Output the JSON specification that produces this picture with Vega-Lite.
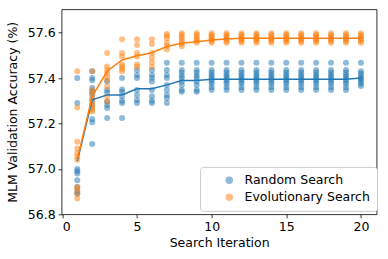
{
  "$schema": "https://vega.github.io/schema/vega-lite/v6.json",
  "width": 315,
  "height": 205,
  "autosize": "none",
  "padding": {"left": 61.6, "top": 9.3, "right": 11.4, "bottom": 44.7},
  "config": {
    "view": {"stroke": "black", "strokeWidth": 0.8},
    "font": "DejaVu Sans",
    "axis": {
      "domain": false,
      "grid": false,
      "tickColor": "black",
      "tickSize": 3.5,
      "tickWidth": 0.8,
      "labelPadding": 3,
      "labelFont": "DejaVu Sans",
      "labelFontSize": 12.5,
      "labelColor": "black",
      "titleFont": "DejaVu Sans",
      "titleFontSize": 12.5,
      "titleFontWeight": "normal",
      "titleColor": "black"
    },
    "legend": {
      "labelFont": "DejaVu Sans",
      "labelFontSize": 12.5,
      "labelColor": "black"
    }
  },
  "datasets": {
    "pts": [
      {"x":1,"y":57.40,"s":"Random Search"},{"x":1,"y":57.29,"s":"Random Search"},{"x":1,"y":57.00,"s":"Random Search"},{"x":1,"y":56.99,"s":"Random Search"},{"x":1,"y":56.98,"s":"Random Search"},{"x":1,"y":56.95,"s":"Random Search"},{"x":1,"y":56.92,"s":"Random Search"},{"x":1,"y":56.90,"s":"Random Search"},{"x":1,"y":56.89,"s":"Random Search"},
      {"x":2,"y":57.43,"s":"Random Search"},{"x":2,"y":57.40,"s":"Random Search"},{"x":2,"y":57.39,"s":"Random Search"},{"x":2,"y":57.356,"s":"Random Search"},{"x":2,"y":57.341,"s":"Random Search"},{"x":2,"y":57.326,"s":"Random Search"},{"x":2,"y":57.304,"s":"Random Search"},{"x":2,"y":57.282,"s":"Random Search"},{"x":2,"y":57.22,"s":"Random Search"},{"x":2,"y":57.205,"s":"Random Search"},{"x":2,"y":57.11,"s":"Random Search"},
      {"x":3,"y":57.385,"s":"Random Search"},{"x":3,"y":57.348,"s":"Random Search"},{"x":3,"y":57.336,"s":"Random Search"},{"x":3,"y":57.297,"s":"Random Search"},{"x":3,"y":57.282,"s":"Random Search"},{"x":3,"y":57.268,"s":"Random Search"},{"x":3,"y":57.224,"s":"Random Search"},
      {"x":4,"y":57.40,"s":"Random Search"},{"x":4,"y":57.35,"s":"Random Search"},{"x":4,"y":57.34,"s":"Random Search"},{"x":4,"y":57.32,"s":"Random Search"},{"x":4,"y":57.30,"s":"Random Search"},{"x":4,"y":57.29,"s":"Random Search"},{"x":4,"y":57.224,"s":"Random Search"},
      {"x":5,"y":57.436,"s":"Random Search"},{"x":5,"y":57.414,"s":"Random Search"},{"x":5,"y":57.40,"s":"Random Search"},{"x":5,"y":57.348,"s":"Random Search"},{"x":5,"y":57.326,"s":"Random Search"},{"x":5,"y":57.304,"s":"Random Search"},{"x":5,"y":57.29,"s":"Random Search"},
      {"x":6,"y":57.436,"s":"Random Search"},{"x":6,"y":57.414,"s":"Random Search"},{"x":6,"y":57.40,"s":"Random Search"},{"x":6,"y":57.385,"s":"Random Search"},{"x":6,"y":57.348,"s":"Random Search"},{"x":6,"y":57.32,"s":"Random Search"},{"x":6,"y":57.30,"s":"Random Search"},{"x":6,"y":57.29,"s":"Random Search"},
      {"x":7,"y":57.468,"s":"Random Search"},{"x":7,"y":57.436,"s":"Random Search"},{"x":7,"y":57.414,"s":"Random Search"},{"x":7,"y":57.40,"s":"Random Search"},{"x":7,"y":57.37,"s":"Random Search"},{"x":7,"y":57.348,"s":"Random Search"},{"x":7,"y":57.326,"s":"Random Search"},{"x":7,"y":57.312,"s":"Random Search"},{"x":7,"y":57.29,"s":"Random Search"},
      {"x":8,"y":57.468,"s":"Random Search"},{"x":8,"y":57.436,"s":"Random Search"},{"x":8,"y":57.425,"s":"Random Search"},{"x":8,"y":57.41,"s":"Random Search"},{"x":8,"y":57.40,"s":"Random Search"},{"x":8,"y":57.385,"s":"Random Search"},{"x":8,"y":57.37,"s":"Random Search"},{"x":8,"y":57.348,"s":"Random Search"},{"x":8,"y":57.34,"s":"Random Search"},
      {"x":9,"y":57.468,"s":"Random Search"},{"x":9,"y":57.436,"s":"Random Search"},{"x":9,"y":57.425,"s":"Random Search"},{"x":9,"y":57.41,"s":"Random Search"},{"x":9,"y":57.40,"s":"Random Search"},{"x":9,"y":57.385,"s":"Random Search"},{"x":9,"y":57.37,"s":"Random Search"},{"x":9,"y":57.348,"s":"Random Search"},{"x":9,"y":57.34,"s":"Random Search"},
      {"x":10,"y":57.468,"s":"Random Search"},{"x":10,"y":57.436,"s":"Random Search"},{"x":10,"y":57.425,"s":"Random Search"},{"x":10,"y":57.414,"s":"Random Search"},{"x":10,"y":57.405,"s":"Random Search"},{"x":10,"y":57.395,"s":"Random Search"},{"x":10,"y":57.385,"s":"Random Search"},{"x":10,"y":57.375,"s":"Random Search"},{"x":10,"y":57.36,"s":"Random Search"},{"x":10,"y":57.348,"s":"Random Search"},
      {"x":11,"y":57.468,"s":"Random Search"},{"x":11,"y":57.436,"s":"Random Search"},{"x":11,"y":57.425,"s":"Random Search"},{"x":11,"y":57.414,"s":"Random Search"},{"x":11,"y":57.405,"s":"Random Search"},{"x":11,"y":57.395,"s":"Random Search"},{"x":11,"y":57.385,"s":"Random Search"},{"x":11,"y":57.375,"s":"Random Search"},{"x":11,"y":57.36,"s":"Random Search"},{"x":11,"y":57.348,"s":"Random Search"},
      {"x":12,"y":57.468,"s":"Random Search"},{"x":12,"y":57.436,"s":"Random Search"},{"x":12,"y":57.425,"s":"Random Search"},{"x":12,"y":57.414,"s":"Random Search"},{"x":12,"y":57.405,"s":"Random Search"},{"x":12,"y":57.395,"s":"Random Search"},{"x":12,"y":57.385,"s":"Random Search"},{"x":12,"y":57.375,"s":"Random Search"},{"x":12,"y":57.36,"s":"Random Search"},{"x":12,"y":57.348,"s":"Random Search"},
      {"x":13,"y":57.468,"s":"Random Search"},{"x":13,"y":57.436,"s":"Random Search"},{"x":13,"y":57.425,"s":"Random Search"},{"x":13,"y":57.414,"s":"Random Search"},{"x":13,"y":57.405,"s":"Random Search"},{"x":13,"y":57.395,"s":"Random Search"},{"x":13,"y":57.385,"s":"Random Search"},{"x":13,"y":57.375,"s":"Random Search"},{"x":13,"y":57.36,"s":"Random Search"},{"x":13,"y":57.348,"s":"Random Search"},
      {"x":14,"y":57.468,"s":"Random Search"},{"x":14,"y":57.436,"s":"Random Search"},{"x":14,"y":57.425,"s":"Random Search"},{"x":14,"y":57.414,"s":"Random Search"},{"x":14,"y":57.405,"s":"Random Search"},{"x":14,"y":57.395,"s":"Random Search"},{"x":14,"y":57.385,"s":"Random Search"},{"x":14,"y":57.375,"s":"Random Search"},{"x":14,"y":57.36,"s":"Random Search"},{"x":14,"y":57.348,"s":"Random Search"},
      {"x":15,"y":57.468,"s":"Random Search"},{"x":15,"y":57.436,"s":"Random Search"},{"x":15,"y":57.425,"s":"Random Search"},{"x":15,"y":57.414,"s":"Random Search"},{"x":15,"y":57.405,"s":"Random Search"},{"x":15,"y":57.395,"s":"Random Search"},{"x":15,"y":57.385,"s":"Random Search"},{"x":15,"y":57.375,"s":"Random Search"},{"x":15,"y":57.36,"s":"Random Search"},{"x":15,"y":57.348,"s":"Random Search"},
      {"x":16,"y":57.468,"s":"Random Search"},{"x":16,"y":57.436,"s":"Random Search"},{"x":16,"y":57.425,"s":"Random Search"},{"x":16,"y":57.414,"s":"Random Search"},{"x":16,"y":57.405,"s":"Random Search"},{"x":16,"y":57.395,"s":"Random Search"},{"x":16,"y":57.385,"s":"Random Search"},{"x":16,"y":57.375,"s":"Random Search"},{"x":16,"y":57.36,"s":"Random Search"},{"x":16,"y":57.348,"s":"Random Search"},
      {"x":17,"y":57.468,"s":"Random Search"},{"x":17,"y":57.436,"s":"Random Search"},{"x":17,"y":57.425,"s":"Random Search"},{"x":17,"y":57.414,"s":"Random Search"},{"x":17,"y":57.405,"s":"Random Search"},{"x":17,"y":57.395,"s":"Random Search"},{"x":17,"y":57.385,"s":"Random Search"},{"x":17,"y":57.375,"s":"Random Search"},{"x":17,"y":57.36,"s":"Random Search"},{"x":17,"y":57.348,"s":"Random Search"},
      {"x":18,"y":57.468,"s":"Random Search"},{"x":18,"y":57.436,"s":"Random Search"},{"x":18,"y":57.425,"s":"Random Search"},{"x":18,"y":57.414,"s":"Random Search"},{"x":18,"y":57.405,"s":"Random Search"},{"x":18,"y":57.395,"s":"Random Search"},{"x":18,"y":57.385,"s":"Random Search"},{"x":18,"y":57.375,"s":"Random Search"},{"x":18,"y":57.36,"s":"Random Search"},{"x":18,"y":57.348,"s":"Random Search"},
      {"x":19,"y":57.468,"s":"Random Search"},{"x":19,"y":57.436,"s":"Random Search"},{"x":19,"y":57.425,"s":"Random Search"},{"x":19,"y":57.414,"s":"Random Search"},{"x":19,"y":57.405,"s":"Random Search"},{"x":19,"y":57.395,"s":"Random Search"},{"x":19,"y":57.385,"s":"Random Search"},{"x":19,"y":57.375,"s":"Random Search"},{"x":19,"y":57.36,"s":"Random Search"},{"x":19,"y":57.348,"s":"Random Search"},
      {"x":20,"y":57.468,"s":"Random Search"},{"x":20,"y":57.43,"s":"Random Search"},{"x":20,"y":57.42,"s":"Random Search"},{"x":20,"y":57.41,"s":"Random Search"},{"x":20,"y":57.40,"s":"Random Search"},{"x":20,"y":57.395,"s":"Random Search"},{"x":20,"y":57.385,"s":"Random Search"},{"x":20,"y":57.375,"s":"Random Search"},{"x":20,"y":57.365,"s":"Random Search"},
      {"x":1,"y":57.43,"s":"Evolutionary Search"},{"x":1,"y":57.27,"s":"Evolutionary Search"},{"x":1,"y":57.12,"s":"Evolutionary Search"},{"x":1,"y":57.09,"s":"Evolutionary Search"},{"x":1,"y":57.07,"s":"Evolutionary Search"},{"x":1,"y":57.055,"s":"Evolutionary Search"},{"x":1,"y":57.04,"s":"Evolutionary Search"},{"x":1,"y":56.92,"s":"Evolutionary Search"},{"x":1,"y":56.91,"s":"Evolutionary Search"},{"x":1,"y":56.89,"s":"Evolutionary Search"},{"x":1,"y":56.87,"s":"Evolutionary Search"},
      {"x":2,"y":57.43,"s":"Evolutionary Search"},{"x":2,"y":57.348,"s":"Evolutionary Search"},{"x":2,"y":57.334,"s":"Evolutionary Search"},{"x":2,"y":57.312,"s":"Evolutionary Search"},{"x":2,"y":57.297,"s":"Evolutionary Search"},{"x":2,"y":57.282,"s":"Evolutionary Search"},{"x":2,"y":57.268,"s":"Evolutionary Search"},{"x":2,"y":57.26,"s":"Evolutionary Search"},{"x":2,"y":57.253,"s":"Evolutionary Search"},
      {"x":3,"y":57.51,"s":"Evolutionary Search"},{"x":3,"y":57.451,"s":"Evolutionary Search"},{"x":3,"y":57.436,"s":"Evolutionary Search"},{"x":3,"y":57.422,"s":"Evolutionary Search"},{"x":3,"y":57.407,"s":"Evolutionary Search"},{"x":3,"y":57.392,"s":"Evolutionary Search"},{"x":3,"y":57.363,"s":"Evolutionary Search"},{"x":3,"y":57.32,"s":"Evolutionary Search"},{"x":3,"y":57.297,"s":"Evolutionary Search"},
      {"x":4,"y":57.571,"s":"Evolutionary Search"},{"x":4,"y":57.51,"s":"Evolutionary Search"},{"x":4,"y":57.495,"s":"Evolutionary Search"},{"x":4,"y":57.46,"s":"Evolutionary Search"},{"x":4,"y":57.45,"s":"Evolutionary Search"},{"x":4,"y":57.44,"s":"Evolutionary Search"},{"x":4,"y":57.43,"s":"Evolutionary Search"},
      {"x":5,"y":57.571,"s":"Evolutionary Search"},{"x":5,"y":57.546,"s":"Evolutionary Search"},{"x":5,"y":57.51,"s":"Evolutionary Search"},{"x":5,"y":57.495,"s":"Evolutionary Search"},{"x":5,"y":57.46,"s":"Evolutionary Search"},{"x":5,"y":57.45,"s":"Evolutionary Search"},
      {"x":6,"y":57.571,"s":"Evolutionary Search"},{"x":6,"y":57.55,"s":"Evolutionary Search"},{"x":6,"y":57.51,"s":"Evolutionary Search"},{"x":6,"y":57.49,"s":"Evolutionary Search"},{"x":6,"y":57.47,"s":"Evolutionary Search"},{"x":6,"y":57.45,"s":"Evolutionary Search"},
      {"x":7,"y":57.594,"s":"Evolutionary Search"},{"x":7,"y":57.587,"s":"Evolutionary Search"},{"x":7,"y":57.575,"s":"Evolutionary Search"},{"x":7,"y":57.556,"s":"Evolutionary Search"},{"x":7,"y":57.541,"s":"Evolutionary Search"},{"x":7,"y":57.526,"s":"Evolutionary Search"},
      {"x":8,"y":57.597,"s":"Evolutionary Search"},{"x":8,"y":57.59,"s":"Evolutionary Search"},{"x":8,"y":57.58,"s":"Evolutionary Search"},{"x":8,"y":57.57,"s":"Evolutionary Search"},{"x":8,"y":57.56,"s":"Evolutionary Search"},{"x":8,"y":57.55,"s":"Evolutionary Search"},{"x":8,"y":57.54,"s":"Evolutionary Search"},
      {"x":9,"y":57.597,"s":"Evolutionary Search"},{"x":9,"y":57.59,"s":"Evolutionary Search"},{"x":9,"y":57.58,"s":"Evolutionary Search"},{"x":9,"y":57.57,"s":"Evolutionary Search"},{"x":9,"y":57.565,"s":"Evolutionary Search"},{"x":9,"y":57.556,"s":"Evolutionary Search"},
      {"x":10,"y":57.597,"s":"Evolutionary Search"},{"x":10,"y":57.59,"s":"Evolutionary Search"},{"x":10,"y":57.583,"s":"Evolutionary Search"},{"x":10,"y":57.576,"s":"Evolutionary Search"},{"x":10,"y":57.57,"s":"Evolutionary Search"},{"x":10,"y":57.563,"s":"Evolutionary Search"},{"x":10,"y":57.556,"s":"Evolutionary Search"},
      {"x":11,"y":57.597,"s":"Evolutionary Search"},{"x":11,"y":57.59,"s":"Evolutionary Search"},{"x":11,"y":57.583,"s":"Evolutionary Search"},{"x":11,"y":57.576,"s":"Evolutionary Search"},{"x":11,"y":57.57,"s":"Evolutionary Search"},{"x":11,"y":57.563,"s":"Evolutionary Search"},{"x":11,"y":57.556,"s":"Evolutionary Search"},
      {"x":12,"y":57.597,"s":"Evolutionary Search"},{"x":12,"y":57.59,"s":"Evolutionary Search"},{"x":12,"y":57.583,"s":"Evolutionary Search"},{"x":12,"y":57.576,"s":"Evolutionary Search"},{"x":12,"y":57.57,"s":"Evolutionary Search"},{"x":12,"y":57.563,"s":"Evolutionary Search"},{"x":12,"y":57.556,"s":"Evolutionary Search"},
      {"x":13,"y":57.597,"s":"Evolutionary Search"},{"x":13,"y":57.59,"s":"Evolutionary Search"},{"x":13,"y":57.583,"s":"Evolutionary Search"},{"x":13,"y":57.576,"s":"Evolutionary Search"},{"x":13,"y":57.57,"s":"Evolutionary Search"},{"x":13,"y":57.563,"s":"Evolutionary Search"},{"x":13,"y":57.556,"s":"Evolutionary Search"},
      {"x":14,"y":57.597,"s":"Evolutionary Search"},{"x":14,"y":57.59,"s":"Evolutionary Search"},{"x":14,"y":57.583,"s":"Evolutionary Search"},{"x":14,"y":57.576,"s":"Evolutionary Search"},{"x":14,"y":57.57,"s":"Evolutionary Search"},{"x":14,"y":57.563,"s":"Evolutionary Search"},{"x":14,"y":57.556,"s":"Evolutionary Search"},
      {"x":15,"y":57.597,"s":"Evolutionary Search"},{"x":15,"y":57.59,"s":"Evolutionary Search"},{"x":15,"y":57.583,"s":"Evolutionary Search"},{"x":15,"y":57.576,"s":"Evolutionary Search"},{"x":15,"y":57.57,"s":"Evolutionary Search"},{"x":15,"y":57.563,"s":"Evolutionary Search"},{"x":15,"y":57.556,"s":"Evolutionary Search"},
      {"x":16,"y":57.597,"s":"Evolutionary Search"},{"x":16,"y":57.59,"s":"Evolutionary Search"},{"x":16,"y":57.583,"s":"Evolutionary Search"},{"x":16,"y":57.576,"s":"Evolutionary Search"},{"x":16,"y":57.57,"s":"Evolutionary Search"},{"x":16,"y":57.563,"s":"Evolutionary Search"},{"x":16,"y":57.556,"s":"Evolutionary Search"},
      {"x":17,"y":57.597,"s":"Evolutionary Search"},{"x":17,"y":57.59,"s":"Evolutionary Search"},{"x":17,"y":57.583,"s":"Evolutionary Search"},{"x":17,"y":57.576,"s":"Evolutionary Search"},{"x":17,"y":57.57,"s":"Evolutionary Search"},{"x":17,"y":57.563,"s":"Evolutionary Search"},{"x":17,"y":57.556,"s":"Evolutionary Search"},
      {"x":18,"y":57.597,"s":"Evolutionary Search"},{"x":18,"y":57.59,"s":"Evolutionary Search"},{"x":18,"y":57.583,"s":"Evolutionary Search"},{"x":18,"y":57.576,"s":"Evolutionary Search"},{"x":18,"y":57.57,"s":"Evolutionary Search"},{"x":18,"y":57.563,"s":"Evolutionary Search"},{"x":18,"y":57.556,"s":"Evolutionary Search"},
      {"x":19,"y":57.597,"s":"Evolutionary Search"},{"x":19,"y":57.59,"s":"Evolutionary Search"},{"x":19,"y":57.583,"s":"Evolutionary Search"},{"x":19,"y":57.576,"s":"Evolutionary Search"},{"x":19,"y":57.57,"s":"Evolutionary Search"},{"x":19,"y":57.563,"s":"Evolutionary Search"},{"x":19,"y":57.556,"s":"Evolutionary Search"},
      {"x":20,"y":57.597,"s":"Evolutionary Search"},{"x":20,"y":57.59,"s":"Evolutionary Search"},{"x":20,"y":57.583,"s":"Evolutionary Search"},{"x":20,"y":57.576,"s":"Evolutionary Search"},{"x":20,"y":57.57,"s":"Evolutionary Search"},{"x":20,"y":57.563,"s":"Evolutionary Search"},{"x":20,"y":57.556,"s":"Evolutionary Search"}
    ],
    "lines": [
      {"x":1,"y":57.035,"s":"Random Search"},{"x":2,"y":57.304,"s":"Random Search"},{"x":3,"y":57.326,"s":"Random Search"},{"x":4,"y":57.326,"s":"Random Search"},{"x":5,"y":57.353,"s":"Random Search"},{"x":6,"y":57.353,"s":"Random Search"},{"x":7,"y":57.37,"s":"Random Search"},{"x":8,"y":57.389,"s":"Random Search"},{"x":9,"y":57.389,"s":"Random Search"},{"x":10,"y":57.395,"s":"Random Search"},{"x":11,"y":57.395,"s":"Random Search"},{"x":12,"y":57.395,"s":"Random Search"},{"x":13,"y":57.395,"s":"Random Search"},{"x":14,"y":57.395,"s":"Random Search"},{"x":15,"y":57.395,"s":"Random Search"},{"x":16,"y":57.395,"s":"Random Search"},{"x":17,"y":57.395,"s":"Random Search"},{"x":18,"y":57.395,"s":"Random Search"},{"x":19,"y":57.395,"s":"Random Search"},{"x":20,"y":57.40,"s":"Random Search"},
      {"x":1,"y":57.04,"s":"Evolutionary Search"},{"x":2,"y":57.32,"s":"Evolutionary Search"},{"x":3,"y":57.43,"s":"Evolutionary Search"},{"x":4,"y":57.48,"s":"Evolutionary Search"},{"x":5,"y":57.498,"s":"Evolutionary Search"},{"x":6,"y":57.512,"s":"Evolutionary Search"},{"x":7,"y":57.539,"s":"Evolutionary Search"},{"x":8,"y":57.553,"s":"Evolutionary Search"},{"x":9,"y":57.56,"s":"Evolutionary Search"},{"x":10,"y":57.568,"s":"Evolutionary Search"},{"x":11,"y":57.572,"s":"Evolutionary Search"},{"x":12,"y":57.575,"s":"Evolutionary Search"},{"x":13,"y":57.575,"s":"Evolutionary Search"},{"x":14,"y":57.575,"s":"Evolutionary Search"},{"x":15,"y":57.575,"s":"Evolutionary Search"},{"x":16,"y":57.575,"s":"Evolutionary Search"},{"x":17,"y":57.575,"s":"Evolutionary Search"},{"x":18,"y":57.575,"s":"Evolutionary Search"},{"x":19,"y":57.575,"s":"Evolutionary Search"},{"x":20,"y":57.575,"s":"Evolutionary Search"}
    ]
  },
  "layer": [
    {
      "data": {"name": "pts"},
      "mark": {"type": "circle", "opacity": 0.5, "size": 36},
      "encoding": {
        "x": {"field": "x", "type": "quantitative", "scale": {"domain": [-0.05, 21.05], "nice": false, "zero": false}, "axis": {"values": [0, 5, 10, 15, 20], "title": "Search Iteration", "titlePadding": 3}},
        "y": {"field": "y", "type": "quantitative", "scale": {"domain": [56.8, 57.703], "nice": false, "zero": false}, "axis": {"values": [56.8, 57.0, 57.2, 57.4, 57.6], "format": ".1f", "title": "MLM Validation Accuracy (%)", "titlePadding": 8}},
        "color": {
          "field": "s", "type": "nominal",
          "scale": {"domain": ["Random Search", "Evolutionary Search"], "range": ["#1f77b4", "#ff7f0e"]},
          "legend": {
            "title": null, "orient": "none", "legendX": 138.4, "legendY": 157.6,
            "strokeColor": "#cccccc", "fillColor": "white", "cornerRadius": 3,
            "padding": 7, "symbolOffset": 16, "labelOffset": 9, "symbolSize": 36,
            "symbolOpacity": 0.5, "symbolType": "circle", "rowPadding": 4
          }
        }
      }
    },
    {
      "data": {"name": "lines"},
      "mark": {"type": "line", "strokeWidth": 1.5},
      "encoding": {
        "x": {"field": "x", "type": "quantitative"},
        "y": {"field": "y", "type": "quantitative"},
        "color": {"field": "s", "type": "nominal", "legend": null}
      }
    }
  ]
}
